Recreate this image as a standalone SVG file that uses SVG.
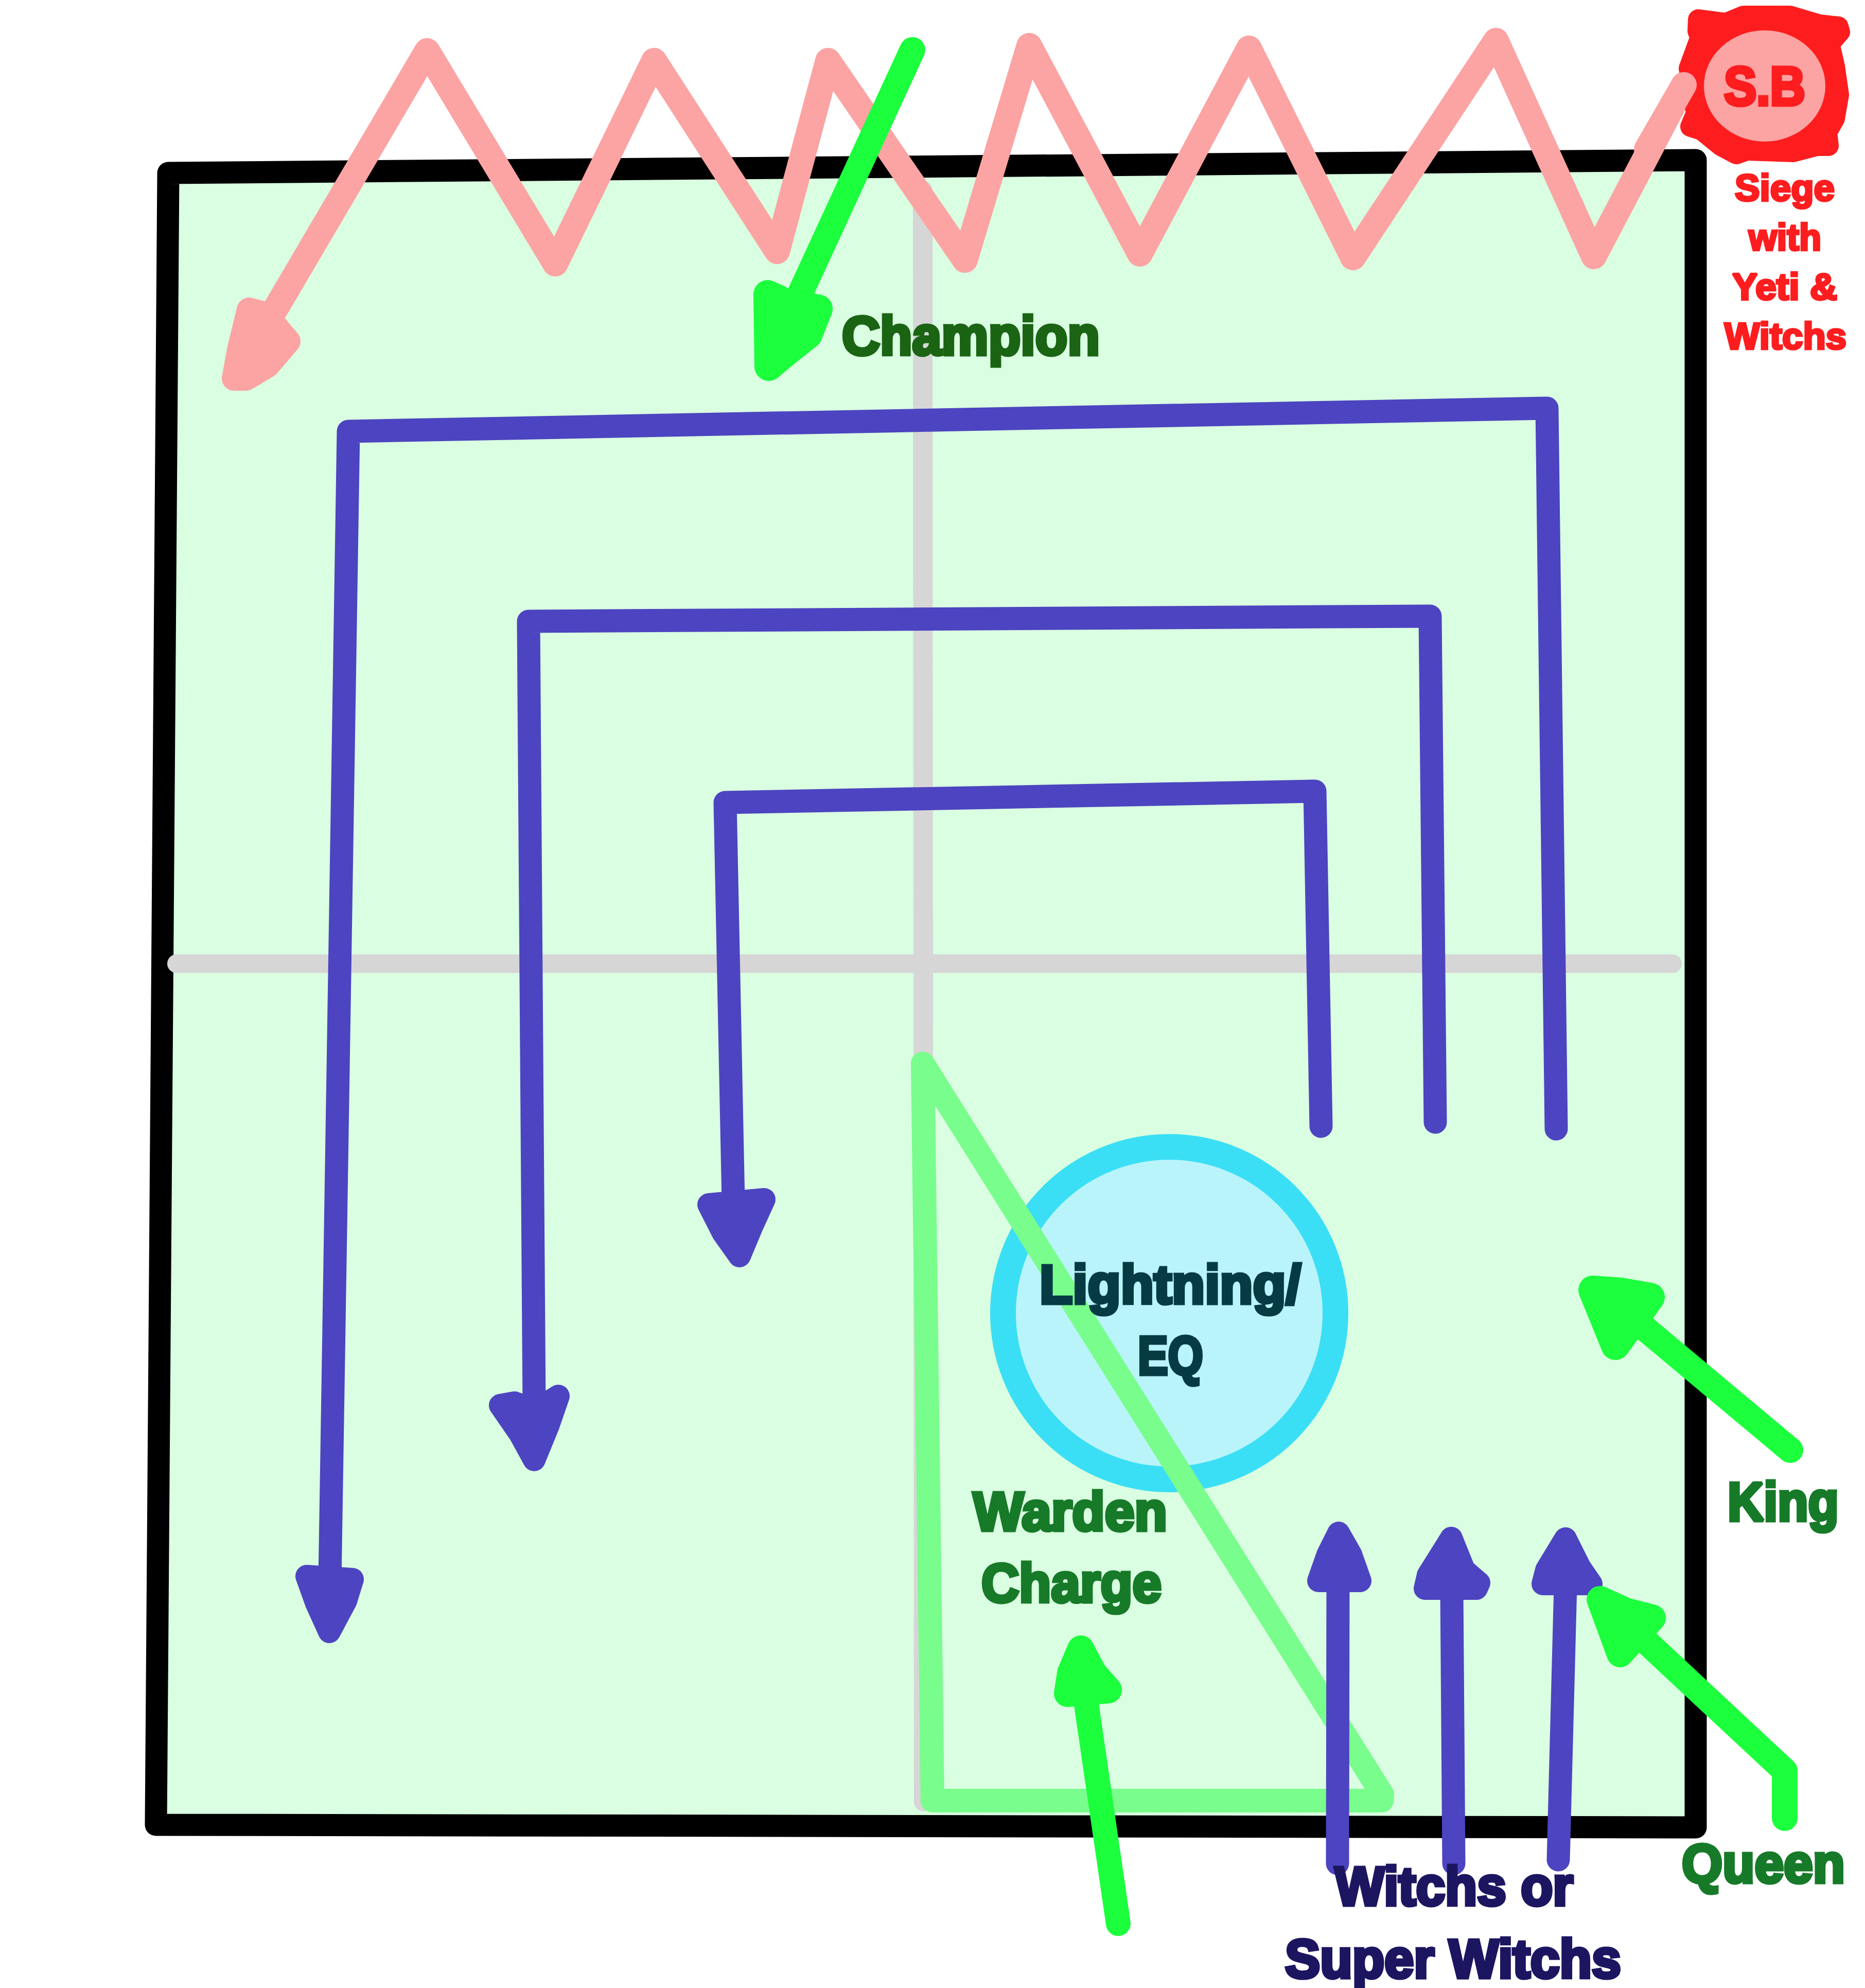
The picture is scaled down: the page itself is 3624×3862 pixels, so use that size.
<svg xmlns="http://www.w3.org/2000/svg" width="3624" height="3862" viewBox="0 0 3624 3862">
<style>
.l{fill:none;stroke-linecap:round;stroke-linejoin:round}
.h{stroke-linejoin:round}
.pk{stroke:#fca3a3}
.gr{stroke:#1bff3d}
.bl{stroke:#4d44c1}
.t{font-family:"Liberation Sans",Arial,sans-serif;font-weight:bold;font-size:105px;stroke-width:7px;stroke-linejoin:miter;stroke-miterlimit:2}
.s{font-size:73px;stroke-width:4.5px}
.red{fill:#fd1d1f;stroke:#fd1d1f}
.dg{fill:#167a28;stroke:#167a28}
.ng{fill:#1c1560;stroke:#1c1560}
</style>
<rect width="3624" height="3862" fill="#ffffff"/>
<g id="field">
<path d="M327 336 L3295 311 L3295 3550 L303 3545 Z" fill="#dafee1" stroke="#000000" stroke-width="43" stroke-linejoin="round"/>
</g>
<g id="grid">
<path class="l" d="M1793 370 L1795 3500" stroke="#d6d6d6" stroke-width="38"/>
<path class="l" d="M343 1872 L3250 1872" stroke="#d6d6d6" stroke-width="36"/>
</g>
<g id="spell-circle">
<ellipse cx="2272" cy="2551" rx="323" ry="323" fill="#b9f4fa" stroke="#3bdff5" stroke-width="50"/>
</g>
<g id="connectors">
<path id="warden-path" class="l" d="M1793 2066 L1812 3498 L2685 3498 L2686 3486 Z" stroke="#79fd8c" stroke-width="46"/>
<g id="siege-path">
<path class="l pk" stroke-width="50" d="M3272 165 L3097 498 L2907 79 L2629 500 L2427 94 L2215 493 L2000 89 L1875 505 L1609 118 L1510 488 L1271 118 L1079 512 L830 99 L500 660"/>
<path class="h pk" fill="#fca3a3" stroke-width="48" d="M484 602 L515 610 L560 663 L520 710 L478 735 L455 735 L465 680 Z"/>
</g>
<g id="witch-routes">
<path class="l bl" stroke-width="45" d="M3024 2193 L3006 793 L677 838 L641 3070"/>
<path class="h bl" fill="#4d44c1" stroke-width="44" d="M596 3062 L685 3068 L672 3110 L640 3170 L615 3115 Z"/>
<path class="l bl" stroke-width="45" d="M2789 2180 L2779 1197 L1027 1207 L1038 2730"/>
<path class="h bl" fill="#4d44c1" stroke-width="44" d="M972 2730 L1000 2725 L1040 2740 L1085 2712 L1065 2770 L1038 2836 L1010 2785 Z"/>
<path class="l bl" stroke-width="45" d="M2567 2188 L2555 1537 L1409 1559 L1425 2335"/>
<path class="h bl" fill="#4d44c1" stroke-width="44" d="M1377 2340 L1485 2330 L1460 2385 L1437 2440 L1405 2395 Z"/>
<path class="l bl" stroke-width="45" d="M2599 3620 L2600 3070"/>
<path class="h bl" fill="#4d44c1" stroke-width="44" d="M2601 2978 L2625 3020 L2643 3071 L2562 3071 L2580 3020 Z"/>
<path class="l bl" stroke-width="45" d="M2825 3620 L2821 3090"/>
<path class="h bl" fill="#4d44c1" stroke-width="44" d="M2820 2988 L2845 3050 L2874 3075 L2869 3086 L2769 3086 L2775 3060 Z"/>
<path class="l bl" stroke-width="45" d="M3028 3613 L3042 3080"/>
<path class="h bl" fill="#4d44c1" stroke-width="44" d="M3042 2989 L3070 3045 L3092 3077 L2998 3077 L3005 3050 Z"/>
</g>
<g id="champion-arrow">
<path class="l gr" stroke-width="50" d="M1773 97 L1512 663"/>
<path class="h gr" fill="#1bff3d" stroke-width="56" d="M1492 572 L1530 590 L1590 600 L1570 650 L1520 690 L1494 712 Z"/>
</g>
<g id="king-arrow">
<path class="l gr" stroke-width="50" d="M3479 2817 L3156 2547"/>
<path class="h gr" fill="#1bff3d" stroke-width="56" d="M3095 2506 L3150 2510 L3207 2520 L3139 2614 Z"/>
</g>
<g id="queen-arrow">
<path class="l gr" stroke-width="50" d="M3468 3532 L3468 3440 L3175 3167"/>
<path class="h gr" fill="#1bff3d" stroke-width="52" d="M3109 3107 L3160 3130 L3211 3143 L3148 3213 Z"/>
</g>
<g id="warden-arrow">
<path class="l gr" stroke-width="48" d="M2173 3737 L2106 3277"/>
<path class="h gr" fill="#1bff3d" stroke-width="52" d="M2100 3203 L2125 3250 L2154 3283 L2074 3290 L2080 3250 Z"/>
</g>
</g>
<g id="siege-barracks">
<path d="M3300 38 L3354 45 L3388 31 L3478 31 L3535 48 L3572 52 L3575 62 L3555 85 L3565 129 L3573 184 L3565 230 L3550 257 L3553 283 L3531 283 L3485 295 L3394 292 L3374 299 L3344 283 L3307 253 L3285 246 L3296 220 L3282 133 L3304 73 L3299 60 Z" fill="#fd1d1f" stroke="#fd1d1f" stroke-width="40" stroke-linejoin="round"/>
<ellipse cx="3429" cy="167" rx="118" ry="108" fill="#fca3a3"/>
<path class="l pk" stroke-width="50" d="M3272 165 L3200 290"/>
<text class="t red" x="3350" y="204" textLength="158" lengthAdjust="spacingAndGlyphs">S.B</text>
</g>
<g id="siege-label">
<text class="t s red" x="3371" y="390" textLength="194" lengthAdjust="spacingAndGlyphs">Siege</text>
<text class="t s red" x="3398" y="486" textLength="141" lengthAdjust="spacingAndGlyphs">with</text>
<text class="t s red" x="3366" y="582" textLength="204" lengthAdjust="spacingAndGlyphs">Yeti &amp;</text>
<text class="t s red" x="3351" y="678" textLength="237" lengthAdjust="spacingAndGlyphs">Witchs</text>
</g>
<g id="champion-label">
<text class="t" x="1636" y="689" textLength="501" lengthAdjust="spacingAndGlyphs" fill="#1a6414" stroke="#1a6414">Champion</text>
</g>
<g id="spell-label">
<text class="t" x="2020" y="2532" textLength="508" lengthAdjust="spacingAndGlyphs" fill="#063b44" stroke="#063b44">Lightning/</text>
<text class="t" x="2211" y="2670" textLength="127" lengthAdjust="spacingAndGlyphs" fill="#063b44" stroke="#063b44">EQ</text>
</g>
<g id="warden-label">
<text class="t dg" x="1891" y="2973" textLength="377" lengthAdjust="spacingAndGlyphs">Warden</text>
<text class="t dg" x="1907" y="3112" textLength="350" lengthAdjust="spacingAndGlyphs">Charge</text>
</g>
<g id="king-label">
<text class="t dg" x="3357" y="2954" textLength="216" lengthAdjust="spacingAndGlyphs">King</text>
</g>
<g id="queen-label">
<text class="t dg" x="3268" y="3657" textLength="317" lengthAdjust="spacingAndGlyphs">Queen</text>
</g>
<g id="witches-label">
<text class="t ng" x="2594" y="3701" textLength="463" lengthAdjust="spacingAndGlyphs">Witchs or</text>
<text class="t ng" x="2497" y="3842" textLength="653" lengthAdjust="spacingAndGlyphs">Super Witchs</text>
</g>
</svg>
